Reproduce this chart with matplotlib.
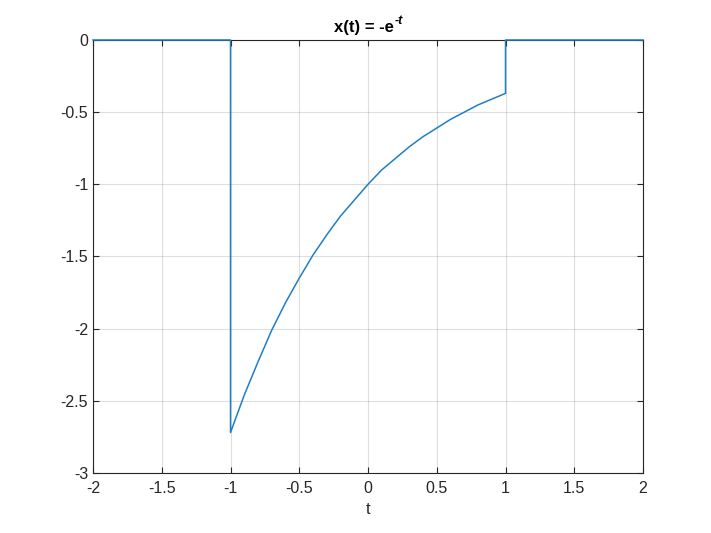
import numpy as np
import matplotlib.pyplot as plt

plt.rcParams['font.family'] = ['Liberation Sans', 'DejaVu Sans']

# values
t = [-2.0, -1.0, -1.0, -0.95, -0.9, -0.8, -0.7, -0.6, -0.5, -0.4, -0.3, -0.2, -0.1,
     0.0, 0.1, 0.2, 0.3, 0.4, 0.5, 0.6, 0.7, 0.8, 0.9, 1.0, 1.0, 2.0]
x = [0.0, 0.0, -2.72, -2.59, -2.46, -2.23, -2.01, -1.82, -1.65, -1.49, -1.35, -1.22, -1.11,
     -1.00, -0.90, -0.82, -0.74, -0.67, -0.61, -0.55, -0.50, -0.45, -0.41, -0.37, 0.0, 0.0]
xticks = [-2, -1.5, -1, -0.5, 0, 0.5, 1, 1.5, 2]
yticks = [-3, -2.5, -2, -1.5, -1, -0.5, 0]

fig = plt.figure(figsize=(7.11, 5.33), dpi=100)
ax = fig.add_axes([0.1308, 0.1126, 0.7736, 0.8124])
ax.plot(t, x, color='#1f7fc4', lw=1.1, clip_on=False, zorder=5)

axc = (0.15, 0.15, 0.15)
ax.set_xlim(-2, 2)
ax.set_ylim(-3, 0)
ax.set_xticks(xticks)
ax.set_yticks(yticks)
ax.set_xticklabels(['%g' % v for v in xticks])
ax.set_yticklabels(['%g' % v for v in yticks])
ax.tick_params(direction='in', length=4, width=0.8, colors=axc, labelsize=11.5,
               top=True, right=True, labeltop=False, labelright=False)
ax.tick_params(axis='x', pad=6)
for s in ax.spines.values():
    s.set_color(axc)
    s.set_linewidth(0.8)
ax.grid(True, color=axc, alpha=0.15, lw=0.8)
ax.set_axisbelow(True)
ax.set_xlabel('t', fontsize=12, color=axc)

# title: x(t) = -e with bold italic superscript -t
ttl = ax.text(0.492, 1.012, 'x(t) = -e', transform=ax.transAxes, ha='center', va='bottom',
              fontsize=12, fontweight='bold', color='black')
ax.annotate('-t', xy=(1, 0.55), xycoords=ttl, xytext=(0.5, 0), textcoords='offset points',
            ha='left', va='bottom', fontsize=9, fontweight='bold', fontstyle='italic')

fig.savefig('out.png', dpi=100)
